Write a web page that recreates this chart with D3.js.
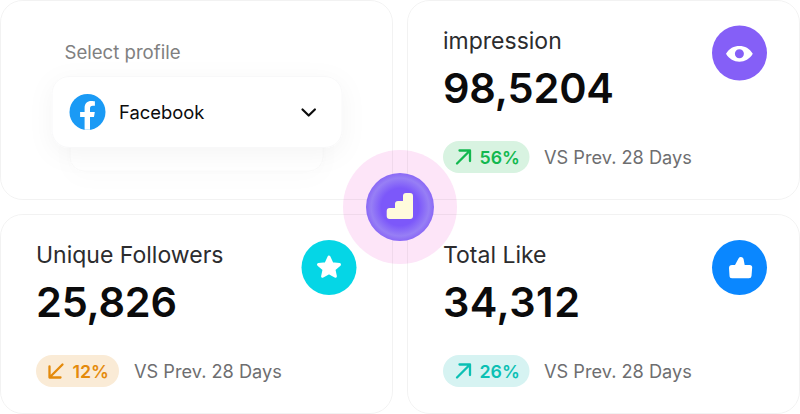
<!DOCTYPE html>
<html><head><meta charset="utf-8">
<script src="https://cdn.jsdelivr.net/npm/d3@7"></script>
<style>html,body{margin:0;padding:0;background:#fff}svg{display:block}text{font-family:Inter,"Noto Sans",sans-serif}</style>
</head><body><svg id="c" width="800" height="414"></svg>
<script>
const labels=["impression","Unique Followers","Total Like"];
const values=["98,5204","25,826","34,312"];
const changes=["56%","12%","26%"];
const directions=["up","down","up"];
const compareText="VS Prev. 28 Days";
const profileLabel="Select profile";
const profileName="Facebook";

const svg=d3.select("#c");
const defs=svg.append("defs");
const rg=defs.append("radialGradient").attr("id","hub");
rg.append("stop").attr("offset","0%").attr("stop-color","#7c58fa");
rg.append("stop").attr("offset","55%").attr("stop-color","#7c58fa");
rg.append("stop").attr("offset","85%").attr("stop-color","#977ff5");
rg.append("stop").attr("offset","100%").attr("stop-color","#8a68f6");
const f=defs.append("filter").attr("id","sh").attr("x","-20%").attr("y","-40%").attr("width","140%").attr("height","200%");
f.append("feDropShadow").attr("dx",0).attr("dy",6).attr("stdDeviation",12).attr("flood-color","#000").attr("flood-opacity",0.045);
const f2=defs.append("filter").attr("id","sh2").attr("x","-20%").attr("y","-40%").attr("width","140%").attr("height","200%");
f2.append("feDropShadow").attr("dx",0).attr("dy",6).attr("stdDeviation",10).attr("flood-color","#000").attr("flood-opacity",0.015);

svg.append("circle").attr("cx",400).attr("cy",207).attr("r",57).attr("fill","#fde5f8");

const cards=[[0.5,0.5],[407.5,0.5],[0.5,214.5],[407.5,214.5]];
svg.selectAll("rect.card").data(cards).join("rect").attr("class","card")
 .attr("x",d=>d[0]).attr("y",d=>d[1]).attr("width",392).attr("height",199).attr("rx",22)
 .attr("fill","none").attr("stroke","rgba(0,0,0,0.05)").attr("stroke-width",1);

// Hub
svg.append("circle").attr("cx",400).attr("cy",207).attr("r",34).attr("fill","url(#hub)");
svg.append("path").attr("fill","#fffbdc")
 .attr("d","M389.7 219a3 3 0 0 1-3-3v-5a3 3 0 0 1 3-3h5.3v-4a3 3 0 0 1 3-3h5v-5a3 3 0 0 1 3-3h4a3 3 0 0 1 3 3v20a3 3 0 0 1-3 3z");

// Profile card
svg.append("text").attr("x",64.5).attr("y",58.5).attr("font-size",18.6).attr("fill","#808080").text(profileLabel);
svg.append("rect").attr("x",70).attr("y",120).attr("width",253).attr("height",51).attr("rx",14).attr("fill","#fff").attr("stroke","#fafafa").attr("filter","url(#sh2)");
svg.append("rect").attr("x",52).attr("y",76.5).attr("width",290).attr("height",71).attr("rx",17).attr("fill","#fff").attr("stroke","#f8f8f9").attr("filter","url(#sh)");
svg.append("circle").attr("cx",87.5).attr("cy",112).attr("r",18).attr("fill","#1a9af5");
svg.append("path").attr("fill","#fff")
 .attr("d","M84.6 129.8v-12.8h-4.5v-5.1h4.5v-3.9c0-4.5 2.7-7 6.7-7 1.9 0 3.6.3 3.6.3v4.4h-2.1c-2.1 0-2.8 1.3-2.8 2.7v3.5h4.8l-.8 5.1h-4v12.8z");
svg.append("text").attr("x",119).attr("y",118.5).attr("font-size",18.4).attr("fill","#0c0c0c").text(profileName);
svg.append("path").attr("d","M302.5 109.5l6.2 6 6.2-6").attr("fill","none").attr("stroke","#0c0c0c").attr("stroke-width",2.2).attr("stroke-linecap","round").attr("stroke-linejoin","round");

// Metric cards
const origins=[[443,0],[36,214],[443,214]];
const badgeBg=["#d8f3e1","#faebd6","#d6f3f2"];
const badgeFg=["#12b84f","#e48a0b","#0bc0b4"];
const badgeW=[86.5,83,86.5];
const valueW=[171,141,137];
const iconBg=["#855ff7","#05d6e6","#0a87ff"];
const iconCx=[739.5,329,739.5];
const data=labels.map((l,i)=>({l,v:values[i],c:changes[i],d:directions[i],i}));
const g=svg.selectAll("g.m").data(data).join("g").attr("class","m").attr("transform",d=>`translate(${origins[d.i][0]},${origins[d.i][1]})`);
g.append("text").attr("y",48.5).attr("font-size",23).attr("fill","#2c2c2e").text(d=>d.l);
g.append("text").attr("y",103).attr("font-size",41.5).attr("font-weight",600).attr("fill","#0b0b0c").attr("textLength",d=>valueW[d.i]).attr("lengthAdjust","spacing").text(d=>d.v);
g.append("rect").attr("y",141).attr("width",d=>badgeW[d.i]).attr("height",32).attr("rx",16).attr("fill",d=>badgeBg[d.i]);
g.append("path").attr("fill","none").attr("stroke",d=>badgeFg[d.i]).attr("stroke-width",2.3).attr("stroke-linecap","round").attr("stroke-linejoin","round")
 .attr("d",d=>d.d==="up"?"M14 163.5L26.5 151M16.5 150.5h10.5v10.5":"M26.5 150.5L14 163M13.5 152.5v11h11");
g.append("text").attr("x",36.5).attr("y",163.5).attr("font-size",17.8).attr("font-weight",600).attr("fill",d=>badgeFg[d.i]).text(d=>d.c);
g.append("text").attr("x",d=>d.i===1?98:101).attr("y",164).attr("font-size",18.2).attr("fill","#6e6e70").text(compareText);

// Icon discs
svg.selectAll("circle.ic").data(data).join("circle").attr("class","ic")
 .attr("cx",d=>iconCx[d.i]).attr("cy",d=>d.i===0?53:267.5).attr("r",27.5).attr("fill",d=>iconBg[d.i]);
svg.append("path").attr("fill","#fff").attr("fill-rule","evenodd")
 .attr("d","M726 53.8c3.2-5.4 8-7.8 13.4-7.8s10.2 2.4 13.4 7.8c-3.2 5.4-8 7.9-13.4 7.9s-10.2-2.5-13.4-7.9zM739.4 49.3a4.5 4.5 0 1 0 0 9a4.5 4.5 0 1 0 0-9z");
svg.append("path").attr("fill","#fff").attr("stroke","#fff").attr("stroke-width",3).attr("stroke-linejoin","round")
 .attr("d","M329 257l3 6.7 7.5.8-5.6 4.8 1.5 7-6.4-3.5-6.4 3.5 1.5-7-5.6-4.8 7.5-.8z");
svg.append("path").attr("fill","#fff")
 .attr("d","M729 268a3 3 0 0 1 3-3h3l3.5-6.5a2.8 2.8 0 0 1 5 .3l1.2 6.2h5a2.5 2.5 0 0 1 2.5 2.5l-.7 8.5a2.5 2.5 0 0 1-2.5 2.3h-17a2.5 2.5 0 0 1-2.5-2.5z");
</script></body></html>
